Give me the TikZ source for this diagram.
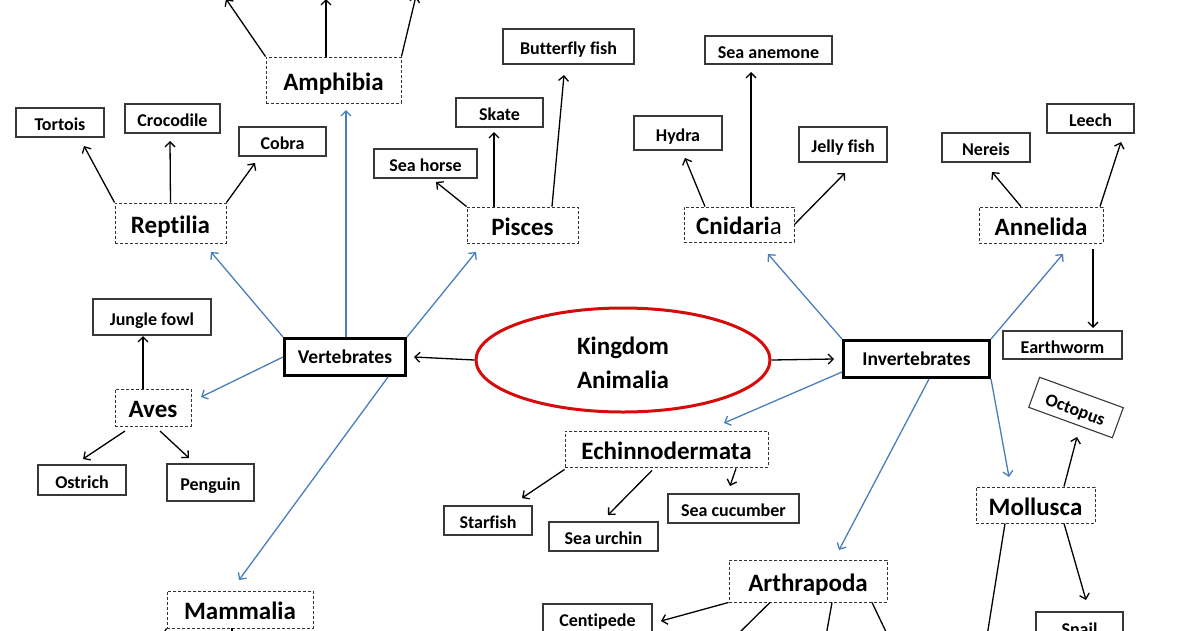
\documentclass[tikz,border=0pt]{standalone}
\usepackage{fontspec}
\setmainfont{Carlito}[Ligatures=NoCommon]
\usetikzlibrary{arrows.meta,shapes.geometric}
\definecolor{vblue}{RGB}{74,126,187}
\definecolor{ered}{RGB}{214,12,12}
\begin{document}
\begin{tikzpicture}[x=1pt,y=-1pt,
  lbl/.style={font=\fontsize{18}{20}\selectfont\bfseries, text height=16.4pt, text depth=0pt},
  big/.style={font=\fontsize{25}{28}\selectfont\bfseries, text height=20pt, text depth=0pt},
  sbox/.style={draw=black!78, line width=1.1pt, lbl, inner sep=0pt},
  dbox/.style={draw=black!80, dash pattern=on 3pt off 2pt, line width=0.9pt, big, inner sep=0pt},
  tbox/.style={draw=black, line width=3pt, font=\fontsize{19.5}{22}\selectfont\bfseries, text height=12.6pt, text depth=0pt, inner sep=0pt},
  arr/.style={-{Straight Barb[length=5pt,width=10pt]}, line width=1.3pt, black},
  barr/.style={-{Straight Barb[length=5pt,width=10pt]}, line width=1.3pt, vblue},
  cline/.style={line width=1.3pt, black}
]
\useasboundingbox (0,0) rectangle (1200,630);
\fill[white] (0,0) rectangle (1200,630);

% centre
\node[draw=ered, line width=3pt, ellipse, minimum width=294, minimum height=104, inner sep=0pt,
  align=center, font=\fontsize{25}{34}\selectfont\bfseries] (ell) at (623,360) {\rule{0pt}{24pt}Kingdom\\Animalia};
\node[tbox, minimum width=121, minimum height=37] (vert) at (345,357) {Vertebrates};
\node[tbox, minimum width=146, minimum height=37] (invert) at (916.5,359) {Invertebrates};

% vertebrate classes
\node[dbox, minimum width=135, minimum height=46] (amph) at (333.5,80) {Amphibia};
\node[dbox, minimum width=111, minimum height=40] (rept) at (170.5,223) {Reptilia};
\node[dbox, minimum width=111, minimum height=36] (pisc) at (522.5,225) {Pisces};
\node[dbox, minimum width=76, minimum height=37] (aves) at (153,407.5) {Aves};
\node[dbox, minimum width=146, minimum height=37] (mamm) at (240,609.5) {Mammalia};

% invertebrate phyla
\node[dbox, minimum width=110, minimum height=35] (cnid) at (739,224.5) {Cnidari{\mdseries a}};
\node[dbox, minimum width=124, minimum height=36] (anne) at (1041,225) {Annelida};
\node[dbox, minimum width=203, minimum height=36] (echin) at (666.5,449) {Echinnodermata};
\node[dbox, minimum width=158, minimum height=42] (arth) at (808,581) {Arthrapoda};
\node[dbox, minimum width=119, minimum height=36] (moll) at (1035.5,505) {Mollusca};

% leaves
\node[sbox, minimum width=88, minimum height=29] (tort) at (60,122.5) {Tortois};
\node[sbox, minimum width=95, minimum height=29] (croc) at (172.5,118.5) {Crocodile};
\node[sbox, minimum width=87, minimum height=29] (cobra) at (282.5,141.5) {Cobra};
\node[sbox, minimum width=103, minimum height=29] (shorse) at (425.5,163.5) {Sea horse};
\node[sbox, minimum width=87, minimum height=29] (skate) at (499.5,112.5) {Skate};
\node[sbox, minimum width=131, minimum height=35] (bfish) at (568.5,46.5) {Butterfly fish};
\node[sbox, minimum width=88, minimum height=34] (hydra) at (678,133) {Hydra};
\node[sbox, minimum width=127, minimum height=28] (anem) at (768.5,50) {Sea anemone};
\node[sbox, minimum width=88, minimum height=35] (jelly) at (843,144.5) {Jelly fish};
\node[sbox, minimum width=88, minimum height=29] (nereis) at (986,147.5) {Nereis};
\node[sbox, minimum width=87, minimum height=29] (leech) at (1090.5,118.5) {Leech};
\node[sbox, minimum width=119, minimum height=28] (earth) at (1062.5,345) {Earthworm};
\node[sbox, minimum width=89, minimum height=32, rotate=-20] (octo) at (1076,407.5) {Octopus};
\node[sbox, minimum width=87, minimum height=30] (snail) at (1079.5,627) {Snail};
\node[sbox, minimum width=118, minimum height=36] (jfowl) at (152,317) {Jungle fowl};
\node[sbox, minimum width=88, minimum height=30] (ostrich) at (82,480) {Ostrich};
\node[sbox, minimum width=87, minimum height=37] (penguin) at (210.5,482.5) {Penguin};
\node[sbox, minimum width=88, minimum height=29] (starfish) at (488,520.5) {Starfish};
\node[sbox, minimum width=109, minimum height=29] (urchin) at (603.5,536.5) {Sea urchin};
\node[sbox, minimum width=131, minimum height=29] (cucumber) at (733.5,508.5) {Sea cucumber};
\node[sbox, minimum width=109, minimum height=29] (centi) at (597.5,618.5) {Centipede};

% free ends leaving the picture
\coordinate (a1) at (226,-1);
\coordinate (a2) at (326,-1);
\coordinate (a3) at (416,-4);
\coordinate (m1) at (987,636);
\coordinate (r1) at (736,636);
\coordinate (r2) at (826,636);
\coordinate (r3) at (888,636);
\coordinate (ma1) at (162,636);
\coordinate (ma2) at (232,636);

% kingdom
\draw[arr] (ell.west) -- ([shift={(7,0)}]vert.east);
\draw[arr] (ell.east) -- ([shift={(-8,0)}]invert.west);

% vertebrates (blue)
\draw[barr] (vert.north west) -- ([shift={(40.5,29)}]rept.center);
\draw[barr] ([shift={(1,0)}]vert.north) -- ([shift={(12.5,30)}]amph.center);
\draw[barr] (vert.north east) -- ([shift={(-46.5,27)}]pisc.center);
\draw[barr] (vert.west) -- ([shift={(48,-10.5)}]aves.center);
\draw[barr] ([shift={(43,0)}]vert.south) -- ([shift={(-1,-29.5)}]mamm.center);

% invertebrates (blue)
\draw[barr] (invert.north west) -- ([shift={(29,29.5)}]cnid.center);
\draw[barr] (invert.north east) -- ([shift={(22,29)}]anne.center);
\draw[barr] ([shift={(0,13)}]invert.west) -- ([shift={(57.5,-26)}]echin.center);
\draw[barr] ([shift={(12.5,0)}]invert.south) -- ([shift={(31,-31)}]arth.center);
\draw[barr] (invert.south east) -- ([shift={(-26.5,-28)}]moll.center);

% amphibia
\draw[arr] (amph.north west) -- (a1);
\draw[arr] ([shift={(-7.5,0)}]amph.north) -- (a2);
\draw[arr] (amph.north east) -- (a3);

% reptilia
\draw[arr] (rept.north west) -- ([shift={(24,23.5)}]tort.center);
\draw[arr] (rept.north) -- ([shift={(-2.5,22.5)}]croc.center);
\draw[arr] (rept.north east) -- ([shift={(-27.5,21.5)}]cobra.center);

% pisces
\draw[arr] (pisc.north west) -- ([shift={(10.5,18.5)}]shorse.center);
\draw[arr] ([shift={(-28.5,0)}]pisc.north) -- ([shift={(-5.5,19.5)}]skate.center);
\draw[arr] ([shift={(29.5,0)}]pisc.north) -- ([shift={(-4.5,28.5)}]bfish.center);

% aves
\draw[arr] ([shift={(-10,0)}]aves.north) -- ([shift={(-9,19)}]jfowl.center);
\draw[arr] ([shift={(-28,23.5)}]aves.center) -- ([shift={(1,-21)}]ostrich.center);
\draw[arr] ([shift={(7,23.5)}]aves.center) -- ([shift={(-21.5,-24.5)}]penguin.center);

% mammalia
\draw[cline] (mamm.south west) -- (ma1);
\draw[cline] ([shift={(-8,0)}]mamm.south) -- (ma2);

% cnidaria
\draw[arr] ([shift={(-34,0)}]cnid.north) -- ([shift={(7,25)}]hydra.center);
\draw[arr] ([shift={(12,0)}]cnid.north) -- ([shift={(-17.5,22)}]anem.center);
\draw[arr] (cnid.east) -- ([shift={(2,28.5)}]jelly.center);

% annelida
\draw[arr] ([shift={(-20,0)}]anne.north) -- ([shift={(6,24.5)}]nereis.center);
\draw[arr] ([shift={(59,0)}]anne.north) -- ([shift={(30.5,23.5)}]leech.center);
\draw[arr] ([shift={(52,24)}]anne.center) -- ([shift={(30.5,-17)}]earth.center);

% mollusca
\draw[arr] ([shift={(28.5,0)}]moll.north) -- ([shift={(1,29.5)}]octo.center);
\draw[arr] ([shift={(28.5,0)}]moll.south) -- ([shift={(6.5,-27)}]snail.center);
\draw[cline] ([shift={(-30.5,0)}]moll.south) -- (m1);

% echinodermata
\draw[arr] ([shift={(0,2)}]echin.south west) -- ([shift={(34,-22.5)}]starfish.center);
\draw[arr] ([shift={(-14.5,3)}]echin.south) -- ([shift={(4.5,-21.5)}]urchin.center);
\draw[arr] ([shift={(69.5,1)}]echin.south) -- ([shift={(-3.5,-22.5)}]cucumber.center);

% arthropoda
\draw[arr] (arth.south west) -- ([shift={(63.5,2.5)}]centi.center);
\draw[cline] ([shift={(-38,0)}]arth.south) -- (r1);
\draw[cline] ([shift={(24,0)}]arth.south) -- (r2);
\draw[cline] ([shift={(64,0)}]arth.south) -- (r3);
\end{tikzpicture}
\end{document}
